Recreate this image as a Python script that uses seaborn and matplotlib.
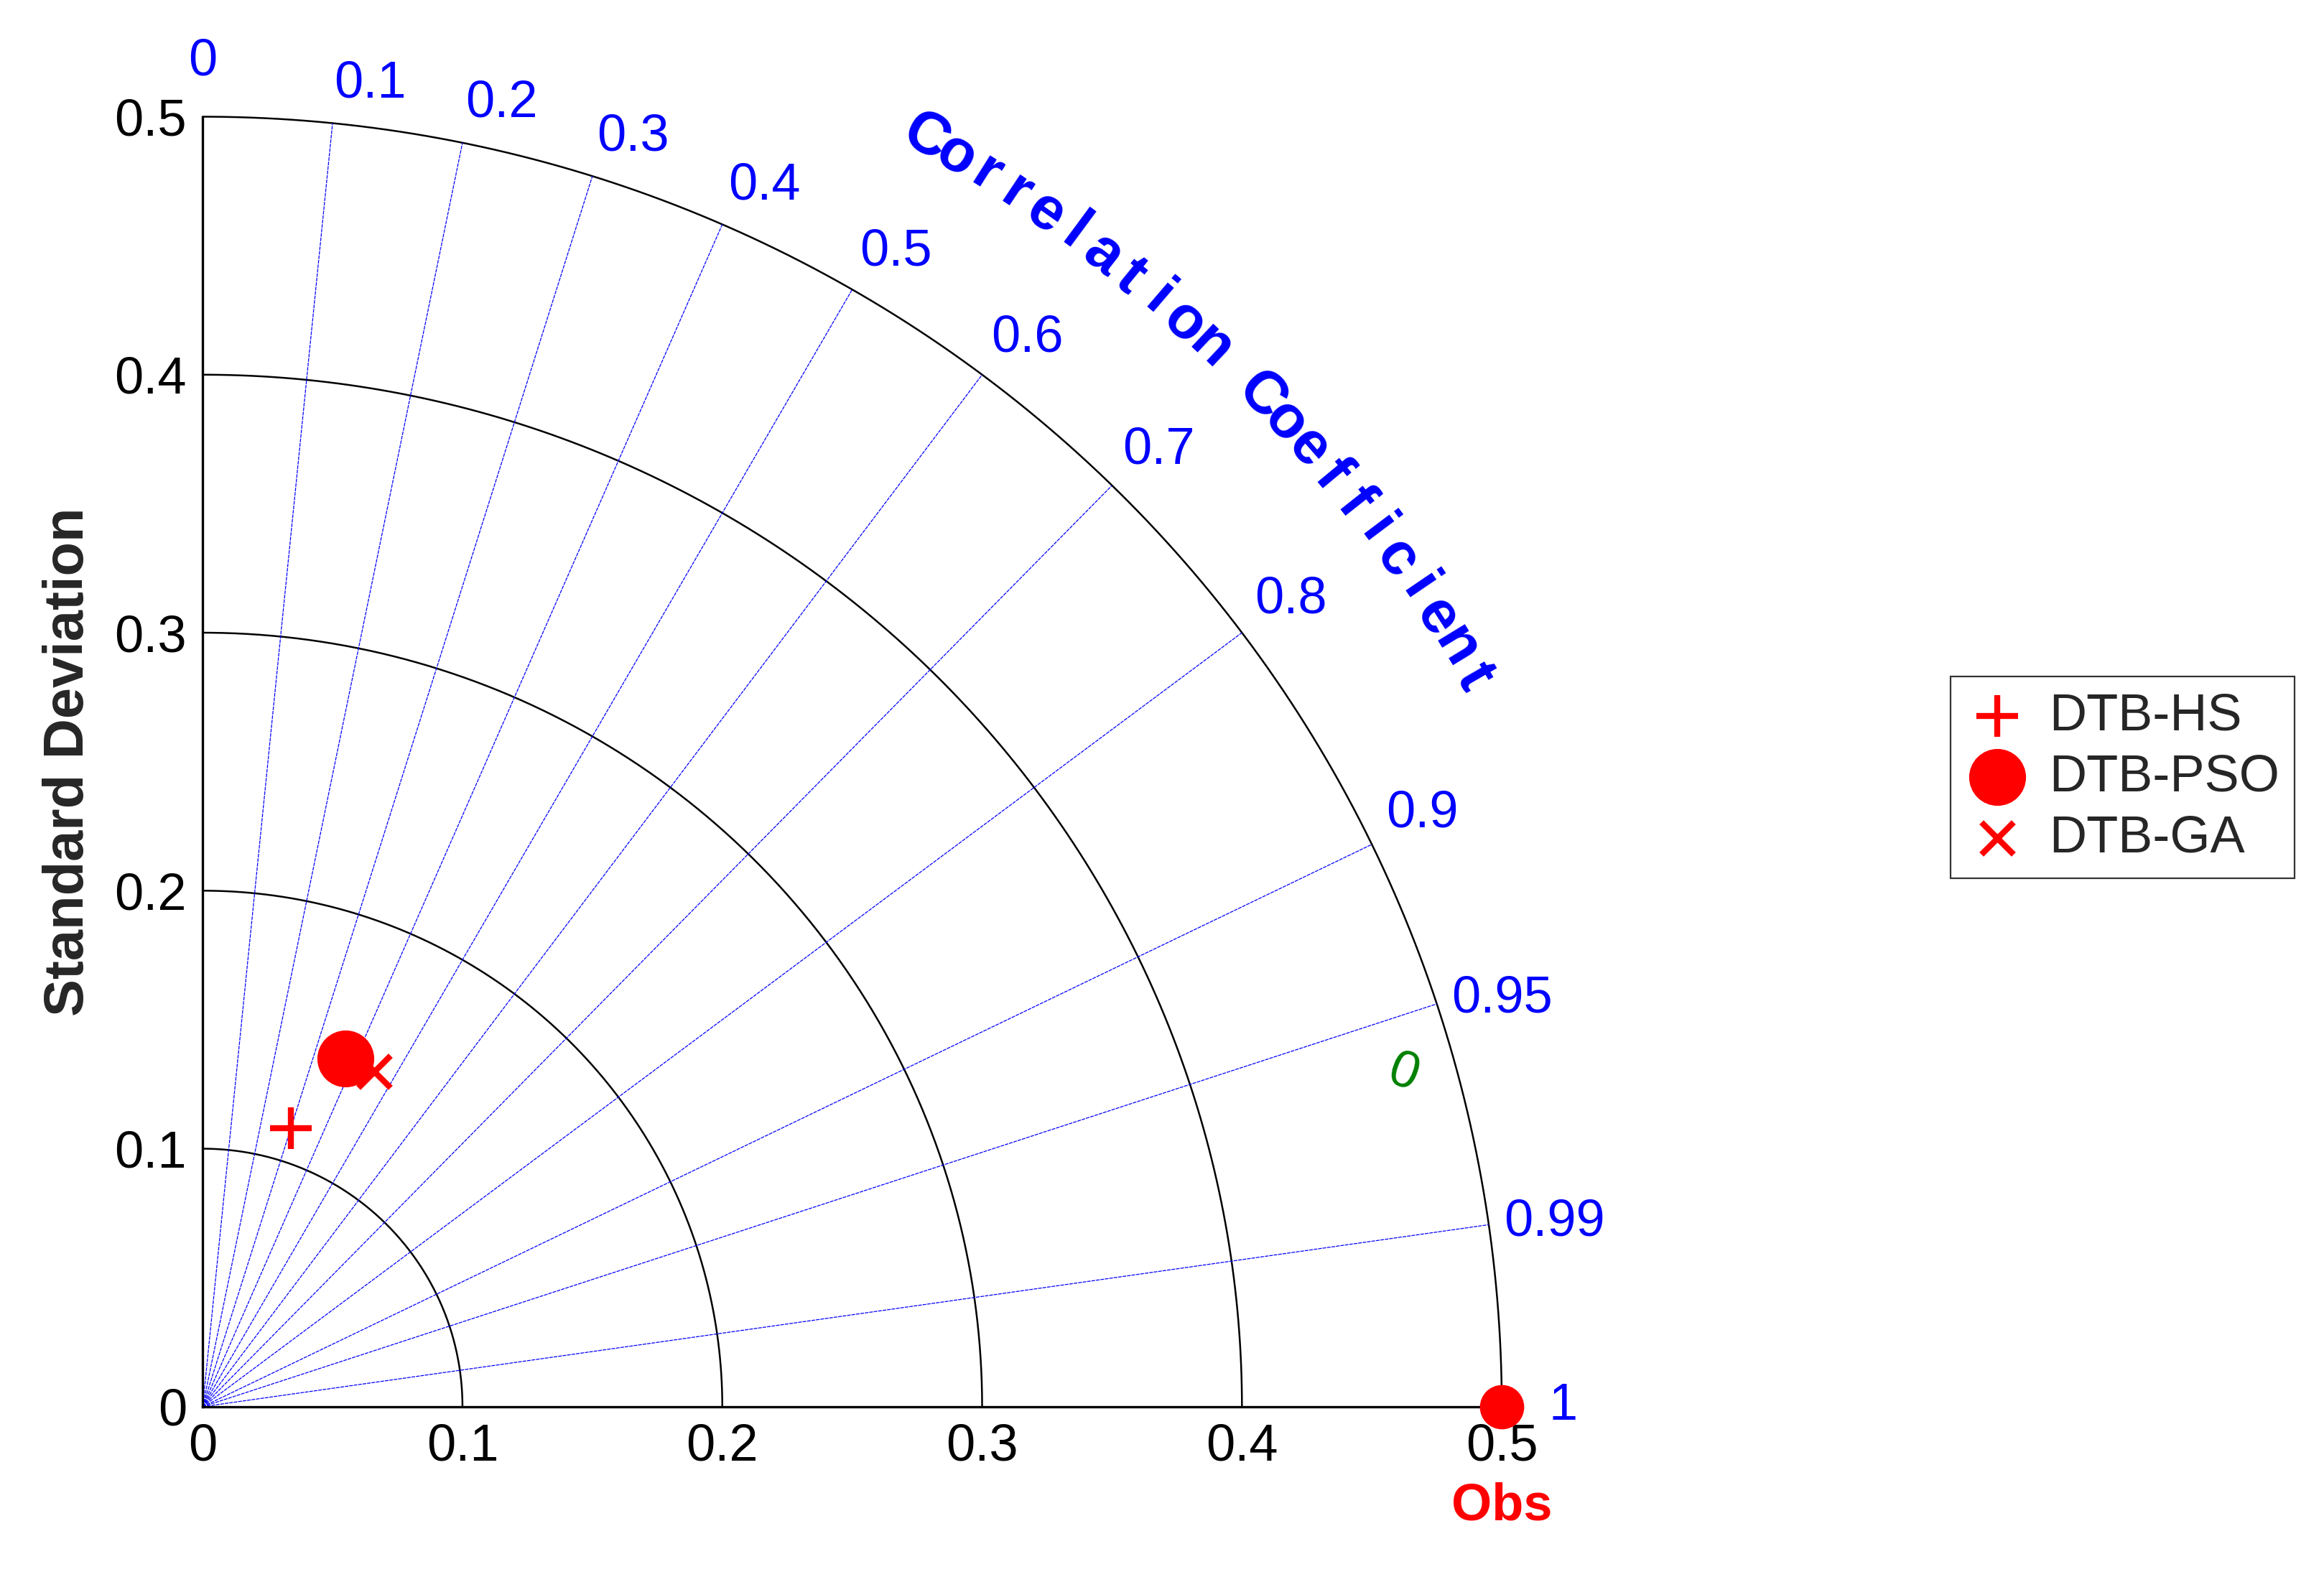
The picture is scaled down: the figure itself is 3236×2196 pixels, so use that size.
import numpy as np
import matplotlib
matplotlib.use("Agg")
import matplotlib.pyplot as plt
import seaborn as sns

sns.set_theme(style="white")
plt.rcParams['font.family'] = ['Liberation Sans', 'DejaVu Sans']

# model points (x, y in std-dev units of the quarter-circle plot)
models = ["DTB-HS", "DTB-PSO", "DTB-GA"]
model_x = [0.034, 0.055, 0.066]
model_y = [0.108, 0.135, 0.130]
model_markers = ["+", "o", "x"]
model_sizes = [450, 650, 260]

obs_std = 0.5
corr_ticks = [0.1, 0.2, 0.3, 0.4, 0.5, 0.6, 0.7, 0.8, 0.9, 0.95, 0.99]
std_ticks = [0, 0.1, 0.2, 0.3, 0.4, 0.5]

fig = plt.figure(figsize=(16.18, 10.98), dpi=200)
ax = fig.add_axes([0.0872, 0.108, 0.559, 0.818])
ax.set_xlim(0, 0.5)
ax.set_ylim(0, 0.5)

t = np.linspace(0, np.pi / 2, 300)
for r in std_ticks[1:]:
    ax.plot(r * np.cos(t), r * np.sin(t), color="black", lw=0.9, clip_on=False)

for c in corr_ticks:
    a = np.arccos(c)
    ax.plot([0, 0.5 * np.cos(a)], [0, 0.5 * np.sin(a)], color="blue", lw=0.45,
            linestyle=(0, (4, 1)), clip_on=False)
    ax.text(0.506 * np.cos(a), 0.506 * np.sin(a), f"{c:g}", color="blue", fontsize=26,
            ha="left", va="bottom" if c < 0.95 else "center")
ax.text(0.0, 0.512, "0", color="blue", fontsize=26, ha="center", va="bottom")
ax.text(0.518, 0.0, "1", color="blue", fontsize=26, ha="left", va="center")

# curved axis title
title = "Correlation Coefficient"
angs = np.linspace(np.radians(60.5), np.radians(30), len(title))
for ch, a in zip(title, angs):
    ax.text(0.565 * np.cos(a), 0.565 * np.sin(a), ch, color="blue", fontsize=30,
            fontweight="bold", rotation=np.degrees(a) - 90, ha="center", va="center",
            rotation_mode="anchor")

ax.text(0.462, 0.129, "0", color="green", fontsize=26, rotation=-20, ha="center", va="center")

for name, x, y, m, s in zip(models, model_x, model_y, model_markers, model_sizes):
    ax.scatter(x, y, marker=m, s=s, color="red", linewidths=3, label=name, clip_on=False, zorder=5)
ax.scatter(obs_std, 0, marker="o", s=450, color="red", clip_on=False, zorder=5)
ax.text(0.5, -0.029, "Obs", color="red", fontsize=26, fontweight="bold", ha="center", va="top")

ax.set_xticks(std_ticks)
ax.set_yticks(std_ticks)
ax.set_xticklabels([f"{v:g}" for v in std_ticks], fontsize=26)
ax.set_yticklabels([f"{v:g}" for v in std_ticks], fontsize=26)
ax.tick_params(axis="both", length=0, pad=8, colors="black")
ax.set_ylabel("Standard Deviation", fontsize=28, fontweight="bold", labelpad=10)
for side in ["top", "right"]:
    ax.spines[side].set_visible(False)
for side in ["left", "bottom"]:
    ax.spines[side].set_color("black")
    ax.spines[side].set_linewidth(1.2)

leg = fig.legend(loc="center left", bbox_to_anchor=(0.828, 0.507), fontsize=26,
                 frameon=True, fancybox=False, edgecolor="black", handletextpad=0.4,
                 borderpad=0.3, labelspacing=0.25, handlelength=1.2)
leg.get_frame().set_linewidth(0.8)

fig.savefig("out.png", dpi=200)
